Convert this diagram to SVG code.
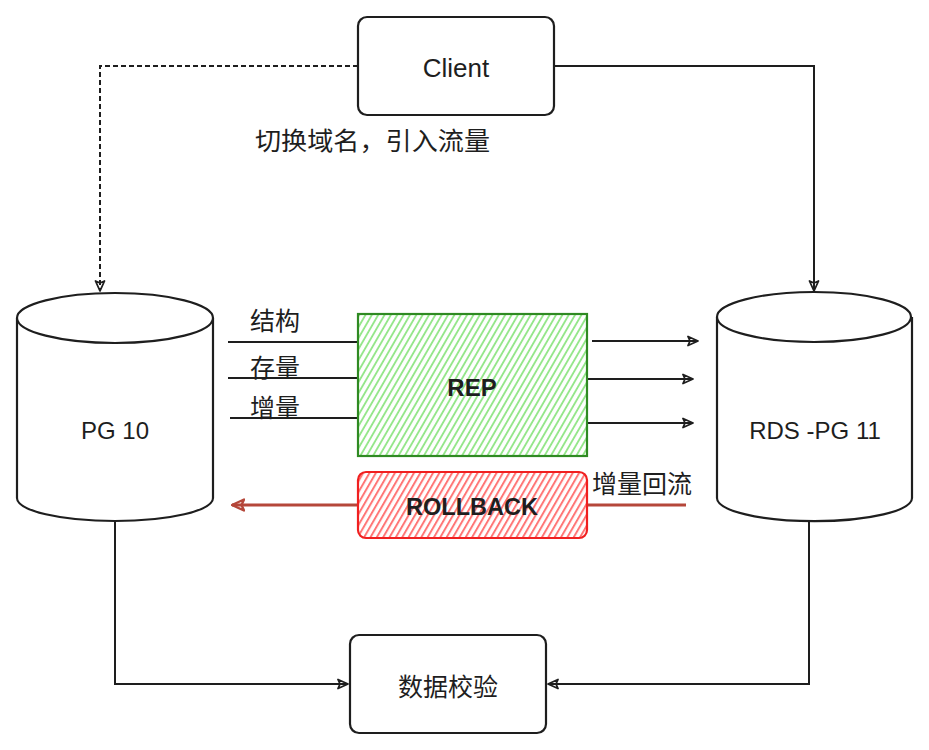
<svg xmlns="http://www.w3.org/2000/svg" width="929" height="750" viewBox="0 0 929 750">
  <style>
    .txt { font-family: "Liberation Sans", "Noto Sans CJK SC", sans-serif; fill: #1e1e1e; }
    .cjk { font-family: "Noto Sans CJK SC", sans-serif; fill: #1e1e1e; font-size: 25px; }
    .box { fill: #ffffff; stroke: #1e1e1e; stroke-width: 2.2; }
    .edge { fill: none; stroke: #1e1e1e; stroke-width: 2; }
  </style>
  <defs>
    <marker id="arr" viewBox="0 0 12 12" refX="11" refY="6" markerWidth="12" markerHeight="12" markerUnits="userSpaceOnUse" orient="auto">
      <path d="M1,1.5 L11,6 L1,10.5 L3,6 Z" fill="none" stroke="#1e1e1e" stroke-width="1.8" stroke-linejoin="round"/>
    </marker>
    <marker id="arrRed" viewBox="0 0 14 14" refX="13" refY="7" markerWidth="14" markerHeight="14" markerUnits="userSpaceOnUse" orient="auto">
      <path d="M1,1.5 L13,7 L1,12.5 L3.5,7 Z" fill="none" stroke="#b5473a" stroke-width="2.4" stroke-linejoin="round"/>
    </marker>
    <pattern id="hatchGreen" width="5.5" height="6" patternUnits="userSpaceOnUse" patternTransform="rotate(30)">
      <rect width="5.5" height="6" fill="#ffffff"/>
      <line x1="1" y1="0" x2="1" y2="6" stroke="#8fe584" stroke-width="1.8"/>
    </pattern>
    <pattern id="hatchRed" width="5.5" height="6" patternUnits="userSpaceOnUse" patternTransform="rotate(30)">
      <rect width="5.5" height="6" fill="#ffffff"/>
      <line x1="1" y1="0" x2="1" y2="6" stroke="#ff7676" stroke-width="2"/>
    </pattern>
  </defs>

  <g id="connectors">
    <path class="edge" d="M358,66 L100,66 L100,291" stroke-dasharray="5,3" marker-end="url(#arr)"/>
    <path class="edge" d="M554,66 L814,66 L814,291" marker-end="url(#arr)"/>
    <line class="edge" x1="228" y1="342" x2="358" y2="342"/>
    <line class="edge" x1="228" y1="378" x2="358" y2="378"/>
    <line class="edge" x1="230" y1="418" x2="360" y2="418"/>
    <line class="edge" x1="592" y1="341" x2="698" y2="341" marker-end="url(#arr)"/>
    <line class="edge" x1="587" y1="379" x2="693" y2="379" marker-end="url(#arr)"/>
    <line class="edge" x1="587" y1="423" x2="693" y2="423" marker-end="url(#arr)"/>
    <line x1="686" y1="505" x2="232" y2="505" fill="none" stroke="#b5473a" stroke-width="2.8" marker-end="url(#arrRed)"/>
    <path class="edge" d="M115,521 L115,684 L348,684" marker-end="url(#arr)"/>
    <path class="edge" d="M809,521 L809,684 L548,684" marker-end="url(#arr)"/>
  </g>

  <g id="client">
    <rect class="box" x="358" y="17" width="196" height="98" rx="9"/>
    <text class="txt" x="456" y="77" font-size="26" text-anchor="middle">Client</text>
  </g>

  <g id="label-switch">
    <text class="cjk" x="255" y="150" textLength="235" lengthAdjust="spacingAndGlyphs">切换域名，引入流量</text>
  </g>

  <g id="pg10">
    <path class="box" d="M17,318 L17,498 A98,23 0 0 0 213,498 L213,318"/>
    <ellipse class="box" cx="115" cy="318" rx="98" ry="25"/>
    <text class="txt" x="115" y="439" font-size="24" text-anchor="middle">PG 10</text>
  </g>

  <g id="rds-pg11">
    <path class="box" d="M717,317 L717,498 A97,23 0 0 0 912,498 L912,317"/>
    <ellipse class="box" cx="814" cy="317" rx="97" ry="25"/>
    <text class="txt" x="815" y="439" font-size="24" text-anchor="middle">RDS -PG 11</text>
  </g>

  <g id="labels-left">
    <text class="cjk" x="250" y="330">结构</text>
    <text class="cjk" x="250" y="377">存量</text>
    <text class="cjk" x="250" y="417">增量</text>
  </g>

  <g id="rep">
    <rect x="358" y="314" width="229" height="142" fill="url(#hatchGreen)" stroke="#2f8a22" stroke-width="2.2"/>
    <text class="txt" x="472" y="396" font-size="24" font-weight="bold" text-anchor="middle">REP</text>
  </g>

  <g id="rollback">
    <rect x="358" y="472" width="229" height="66" rx="8" fill="url(#hatchRed)" stroke="#f02020" stroke-width="2.2"/>
    <text class="txt" x="472" y="515" font-size="23.5" font-weight="bold" text-anchor="middle">ROLLBACK</text>
  </g>

  <g id="label-back">
    <text class="cjk" x="592" y="493">增量回流</text>
  </g>

  <g id="check">
    <rect class="box" x="350" y="635" width="196" height="98" rx="9"/>
    <text class="cjk" x="448" y="696" text-anchor="middle">数据校验</text>
  </g>
</svg>
